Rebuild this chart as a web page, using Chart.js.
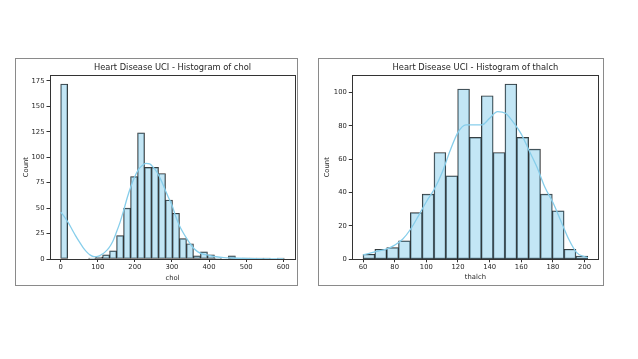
<!DOCTYPE html>
<html>
<head>
<meta charset="utf-8">
<script src="https://cdn.jsdelivr.net/npm/chart.js@4"></script>
<style>
  html, body { margin: 0; padding: 0; background: #ffffff; }
  body { width: 638px; height: 359px; position: relative; overflow: hidden; }
  .frame { position: absolute; box-sizing: border-box; border: 1px solid #8a8a8a; background: #fff; }
  canvas { display: block; }
</style>
</head>
<body>
<div class="frame" id="f1" style="left:15px; top:58px; width:283px; height:228px;"><canvas id="c1" width="281" height="226"></canvas></div>
<div class="frame" id="f2" style="left:318px; top:58px; width:286px; height:228px;"><canvas id="c2" width="284" height="226"></canvas></div>
<script>
// ---------- chol histogram ----------
const cholTitle = "Heart Disease UCI - Histogram of chol";
const cholMin = 0, cholMax = 603, cholBinCount = 32;
const cholCounts = [172, 0, 0, 0, 1, 2, 4, 8, 23, 50, 81, 124, 90, 90, 84, 58,
                    45, 20, 15, 3, 7, 4, 1, 0, 3, 0, 1, 1, 1, 1, 0, 1];
const cholKdeX = [0, 10, 20, 30, 40, 50, 60, 70, 80, 90, 100, 110, 120, 130, 140, 150,
                  160, 170, 180, 190, 200, 210, 220, 230, 240, 250, 260, 270, 280, 290,
                  300, 310, 320, 330, 340, 350, 360, 370, 380, 400, 420, 440, 460, 500, 550, 600];
const cholKdeY = [46, 41.5, 36, 29.5, 23, 17, 11.5, 7, 3.8, 2.4, 2.6, 4.3, 7, 11, 17, 26,
                  36, 48, 61, 72, 81, 88, 92, 94, 93.5, 90, 85, 78, 69.5, 61,
                  53, 42, 33, 26, 20, 14.5, 10, 7, 5.3, 3.6, 2.2, 1.4, 1, 0.5, 0.2, 0.05];
const cholXTicks = [0, 100, 200, 300, 400, 500, 600];
const cholYTicks = [0, 25, 50, 75, 100, 125, 150, 175];

// ---------- thalch histogram ----------
const thalchTitle = "Heart Disease UCI - Histogram of thalch";
const thalchMin = 60, thalchMax = 202, thalchBinCount = 19;
const thalchCounts = [3, 6, 7, 11, 28, 39, 64, 50, 102, 73, 98, 64, 105, 73, 66, 39, 29, 6, 2];
const thalchKdeX = [60, 65, 70, 75, 80, 85, 90, 95, 100, 105, 110, 115, 120, 125, 130, 135,
                    140, 145, 150, 155, 160, 165, 170, 175, 180, 185, 190, 195, 200, 202];
const thalchKdeY = [2.6, 3.8, 5, 6.2, 8.5, 12, 18, 26, 34.5, 42, 52, 65, 76, 80.5, 80.5, 80.5,
                    84.5, 88.5, 87.5, 82, 75, 65, 55, 43, 34, 23, 12, 4, 1.5, 1];
const thalchXTicks = [60, 80, 100, 120, 140, 160, 180, 200];
const thalchYTicks = [0, 20, 40, 60, 80, 100];

const FONT = "'DejaVu Sans', 'Liberation Sans', sans-serif";
const TXT = '#1f1f1f';

const boxPlugin = {
  id: 'box',
  afterDraw(chart) {
    const {ctx, chartArea: a} = chart;
    ctx.save();
    ctx.strokeStyle = '#333333';
    ctx.lineWidth = 1;
    ctx.strokeRect(Math.round(a.left) + 0.5, Math.round(a.top) + 0.5,
                   Math.round(a.right - a.left) - 1, Math.round(a.bottom - a.top));
    ctx.restore();
  }
};

function makeChart(id, cfg) {
  const w = (cfg.max - cfg.min) / cfg.bins;
  const bars = cfg.counts.map((c, i) => ({x: cfg.min + w * (i + 0.5), y: c}));
  const kde = cfg.kdeX.map((x, i) => ({x: x, y: cfg.kdeY[i]}));
  const xr = cfg.max - cfg.min;
  return new Chart(document.getElementById(id), {
    type: 'bar',
    data: {
      datasets: [
        {
          type: 'line', data: kde, order: 0,
          borderColor: '#87ceeb', borderWidth: 1.3, pointRadius: 0,
          cubicInterpolationMode: 'monotone', fill: false
        },
        {
          type: 'bar', data: bars, order: 1,
          backgroundColor: 'rgba(135,206,235,0.5)',
          borderColor: 'rgba(20,20,20,0.9)', borderWidth: 0.75, borderSkipped: false,
          barPercentage: 1.0, categoryPercentage: 1.0
        }
      ]
    },
    options: {
      responsive: false, animation: false, devicePixelRatio: 1,
      layout: { padding: { left: 0, right: cfg.padRight, top: 0, bottom: 0 } },
      plugins: {
        legend: { display: false }, tooltip: { enabled: false },
        title: {
          display: true, text: cfg.title, color: TXT, fullSize: false,
          font: { family: FONT, size: 8.3, weight: 'normal' },
          padding: { top: 3.5, bottom: 2.8 }
        }
      },
      scales: {
        x: {
          type: 'linear', offset: false,
          min: cfg.min - 0.05 * xr, max: cfg.max + 0.05 * xr,
          afterBuildTicks: s => { s.ticks = cfg.xTicks.map(v => ({value: v})); },
          afterFit: s => { s.height = cfg.xH; },
          grid: { display: true, drawOnChartArea: false, drawTicks: true, tickLength: 3, tickColor: '#333', offset: false },
          border: { display: false },
          ticks: { color: TXT, font: { family: FONT, size: 6.8 }, padding: 1, maxRotation: 0, autoSkip: false },
          title: { display: true, text: cfg.xLabel, color: TXT, font: { family: FONT, size: 6.8 }, padding: { top: 0, bottom: cfg.xTitlePad } }
        },
        y: {
          type: 'linear', min: 0, max: cfg.yMax,
          afterBuildTicks: s => { s.ticks = cfg.yTicks.map(v => ({value: v})); },
          afterFit: s => { s.width = cfg.yW; },
          grid: { display: true, drawOnChartArea: false, drawTicks: true, tickLength: 3, tickColor: '#333' },
          border: { display: false },
          ticks: { color: TXT, font: { family: FONT, size: 6.8 }, padding: 2, autoSkip: false },
          title: { display: true, text: 'Count', color: TXT, font: { family: FONT, size: 6.8 }, padding: { top: cfg.yTitlePad, bottom: 0 } }
        }
      }
    },
    plugins: [boxPlugin]
  });
}

makeChart('c1', {
  title: cholTitle, xLabel: 'chol', min: cholMin, max: cholMax, bins: cholBinCount,
  counts: cholCounts, kdeX: cholKdeX, kdeY: cholKdeY, xTicks: cholXTicks, yTicks: cholYTicks,
  yMax: 172 * 1.05, padRight: 1.5, yW: 33.5, xH: 26, xTitlePad: 3, yTitlePad: 6
});
makeChart('c2', {
  title: thalchTitle, xLabel: 'thalch', min: thalchMin, max: thalchMax, bins: thalchBinCount,
  counts: thalchCounts, kdeX: thalchKdeX, kdeY: thalchKdeY, xTicks: thalchXTicks, yTicks: thalchYTicks,
  yMax: 105 * 1.05, padRight: 4, yW: 32.8, xH: 25.7, xTitlePad: 4, yTitlePad: 4
});
</script>
</body>
</html>
